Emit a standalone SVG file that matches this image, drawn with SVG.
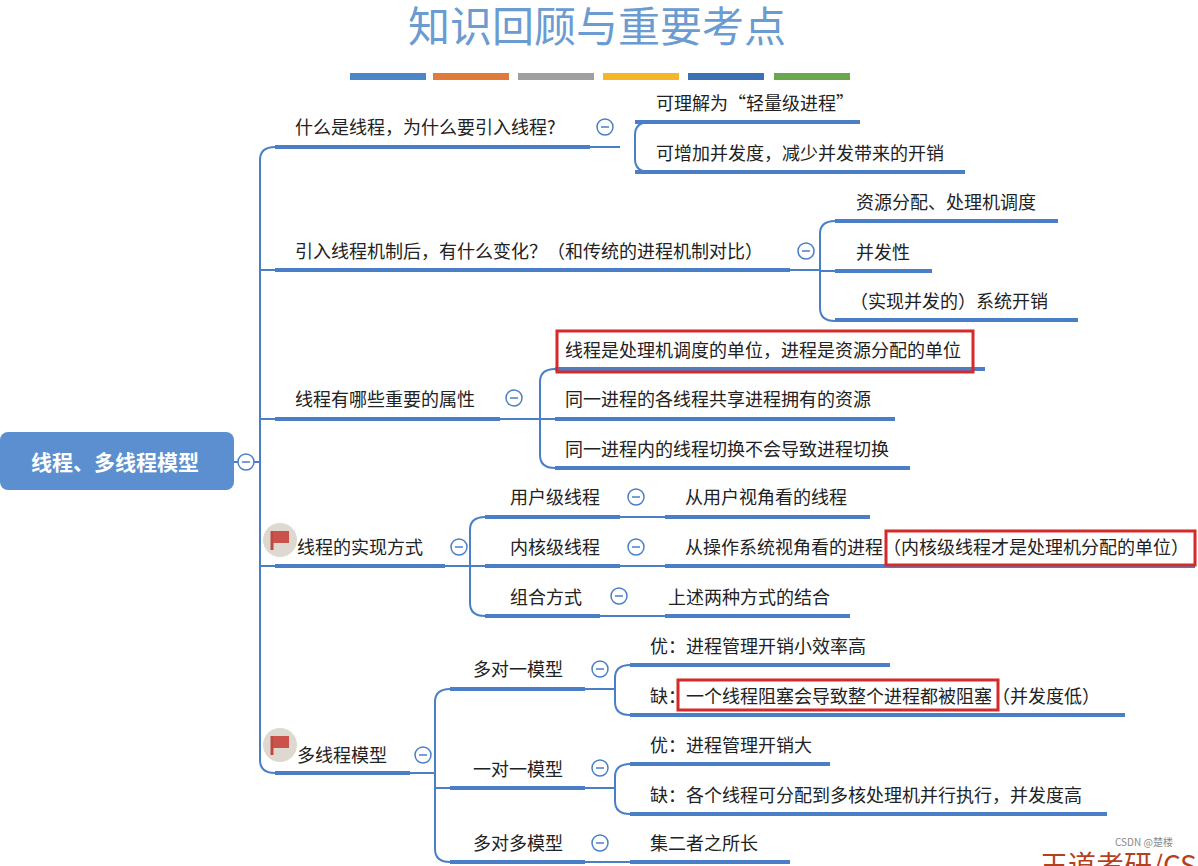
<svg xmlns="http://www.w3.org/2000/svg" width="1198" height="866" viewBox="0 0 1198 866">
<style>
text{font-family:"Noto Sans CJK SC","Noto Sans",sans-serif;font-size:18px;fill:#222}
.ul{stroke:#4a7fc8;stroke-width:4;fill:none}
.cn{stroke:#4a7fc8;stroke-width:2;fill:none}
.red{stroke:#d42a2a;stroke-width:3;fill:none}
.tg circle{fill:#fff;stroke:#4a7fc8;stroke-width:1.5}
.tg line{stroke:#4a7fc8;stroke-width:1.5}
</style>
<defs>
<g id="tog" class="tg"><circle r="8"/><line x1="-4" y1="0" x2="4" y2="0"/></g>
<g id="flag"><circle r="17" fill="#ddd9d0"/><path d="M-8 -9 V10" stroke="#c0493f" stroke-width="3"/><path d="M-7 -9 H9 V3 H-7 Z" fill="#c9524a"/></g>
</defs>
<rect width="1198" height="866" fill="#fff"/>
<text x="597" y="42" text-anchor="middle" style="font-size:42px;fill:#6a9bd1">知识回顾与重要考点</text>
<g>
<rect x="350" y="73" width="76" height="7" fill="#4a86c8"/>
<rect x="433" y="73" width="76" height="7" fill="#e07b39"/>
<rect x="518" y="73" width="76" height="7" fill="#a0a0a0"/>
<rect x="603" y="73" width="76" height="7" fill="#f5b728"/>
<rect x="688" y="73" width="76" height="7" fill="#3d6fb5"/>
<rect x="774" y="73" width="76" height="7" fill="#6aa84f"/>
</g>
<g id="connectors">
<path class="cn" d="M234 462 H260"/>
<path class="cn" d="M275 147 Q260 147 260 160 V760 Q260 773 275 773"/>
<path class="cn" d="M260 270 H275 M260 419 H275 M260 566 H275"/>
<path class="cn" d="M590 147 H620 M650 122 Q635 122 635 135 V159 Q635 172 650 172"/>
<path class="cn" d="M790 270 H820 M835 221 Q820 221 820 234 V308 Q820 321 835 321 M820 271 H835"/>
<path class="cn" d="M500 419 H540 M555 369 Q540 369 540 382 V455 Q540 468 555 468 M540 419 H555"/>
<path class="cn" d="M445 566 H470 M485 517 Q470 517 470 530 V603 Q470 616 485 616 M470 566 H485"/>
<path class="cn" d="M620 517 H665 M620 566 H665 M600 616 H665"/>
<path class="cn" d="M410 773 H435 M450 689 Q435 689 435 702 V849 Q435 862 450 862 M435 788 H450"/>
<path class="cn" d="M585 689 H615 M630 665 Q615 665 615 678 V702 Q615 715 630 715"/>
<path class="cn" d="M585 788 H615 M630 764 Q615 764 615 777 V801 Q615 814 630 814"/>
<path class="cn" d="M585 862 H630"/>
</g>
<g id="root">
<rect x="0" y="432" width="234" height="58" rx="8" fill="#5b8fcf"/>
<text x="115" y="470" text-anchor="middle" style="fill:#fff;font-size:21px;font-weight:bold">线程、多线程模型</text>
<use href="#tog" x="246" y="462"/>
</g>
<g id="n1"><text x="295" y="134">什么是线程，为什么要引入线程?</text><path class="ul" d="M275 147 H590"/><use href="#tog" x="605" y="127"/></g>
<g id="n1a"><text x="656" y="110">可理解为“轻量级进程”</text><path class="ul" d="M635 122 H860"/></g>
<g id="n1b"><text x="656" y="160">可增加并发度，减少并发带来的开销</text><path class="ul" d="M635 172 H965"/></g>
<g id="n2"><text x="295" y="258">引入线程机制后，有什么变化？（和传统的进程机制对比）</text><path class="ul" d="M275 270 H790"/><use href="#tog" x="806" y="251"/></g>
<g id="n2a"><text x="856" y="209">资源分配、处理机调度</text><path class="ul" d="M835 221 H1058"/></g>
<g id="n2b"><text x="856" y="259">并发性</text><path class="ul" d="M835 271 H932"/></g>
<g id="n2c"><text x="850" y="308">（实现并发的）系统开销</text><path class="ul" d="M835 320 H1078"/></g>
<g id="n3"><text x="295" y="406">线程有哪些重要的属性</text><path class="ul" d="M275 419 H500"/><use href="#tog" x="514" y="398"/></g>
<g id="n3a"><text x="565" y="357">线程是处理机调度的单位，进程是资源分配的单位</text><path class="ul" d="M555 369 H985"/><rect class="red" x="557" y="331" width="416" height="41"/></g>
<g id="n3b"><text x="565" y="406">同一进程的各线程共享进程拥有的资源</text><path class="ul" d="M555 419 H895"/></g>
<g id="n3c"><text x="565" y="456">同一进程内的线程切换不会导致进程切换</text><path class="ul" d="M555 468 H910"/></g>
<g id="n4"><use href="#flag" x="280" y="540"/><text x="297" y="554">线程的实现方式</text><path class="ul" d="M275 566 H445"/><use href="#tog" x="459" y="547"/></g>
<g id="n4a"><text x="510" y="504">用户级线程</text><path class="ul" d="M485 517 H620"/><use href="#tog" x="636" y="497"/></g>
<g id="n4a1"><text x="685" y="504">从用户视角看的线程</text><path class="ul" d="M665 517 H870"/></g>
<g id="n4b"><text x="510" y="554">内核级线程</text><path class="ul" d="M485 566 H620"/><use href="#tog" x="636" y="547"/></g>
<g id="n4b1"><text x="685" y="554">从操作系统视角看的进程（内核级线程才是处理机分配的单位）</text><path class="ul" d="M665 566 H1195"/><rect class="red" x="886" y="531" width="309" height="34"/></g>
<g id="n4c"><text x="510" y="604">组合方式</text><path class="ul" d="M485 616 H600"/><use href="#tog" x="619" y="596"/></g>
<g id="n4c1"><text x="668" y="604">上述两种方式的结合</text><path class="ul" d="M665 616 H850"/></g>
<g id="n5"><use href="#flag" x="280" y="745"/><text x="297" y="762">多线程模型</text><path class="ul" d="M275 773 H410"/><use href="#tog" x="423" y="755"/></g>
<g id="n5a"><text x="473" y="676">多对一模型</text><path class="ul" d="M450 689 H585"/><use href="#tog" x="600" y="669"/></g>
<g id="n5a1"><text x="650" y="653">优：进程管理开销小效率高</text><path class="ul" d="M630 665 H890"/></g>
<g id="n5a2"><text x="650" y="703">缺：一个线程阻塞会导致整个进程都被阻塞（并发度低）</text><path class="ul" d="M630 715 H1125"/><rect class="red" x="678" y="680" width="320" height="30"/></g>
<g id="n5b"><text x="473" y="776">一对一模型</text><path class="ul" d="M450 788 H585"/><use href="#tog" x="600" y="768"/></g>
<g id="n5b1"><text x="650" y="752">优：进程管理开销大</text><path class="ul" d="M630 764 H830"/></g>
<g id="n5b2"><text x="650" y="802">缺：各个线程可分配到多核处理机并行执行，并发度高</text><path class="ul" d="M630 814 H1107"/></g>
<g id="n5c"><text x="473" y="850">多对多模型</text><path class="ul" d="M450 862 H585"/><use href="#tog" x="600" y="843"/></g>
<g id="n5c1"><text x="650" y="850">集二者之所长</text><path class="ul" d="M630 862 H790"/></g>
<text x="1040" y="876" style="font-size:28px;fill:#b5401f">王道考研/CS</text>
<text x="1115" y="846" style="font-size:10px;fill:#888">CSDN @楚楼</text>
</svg>
